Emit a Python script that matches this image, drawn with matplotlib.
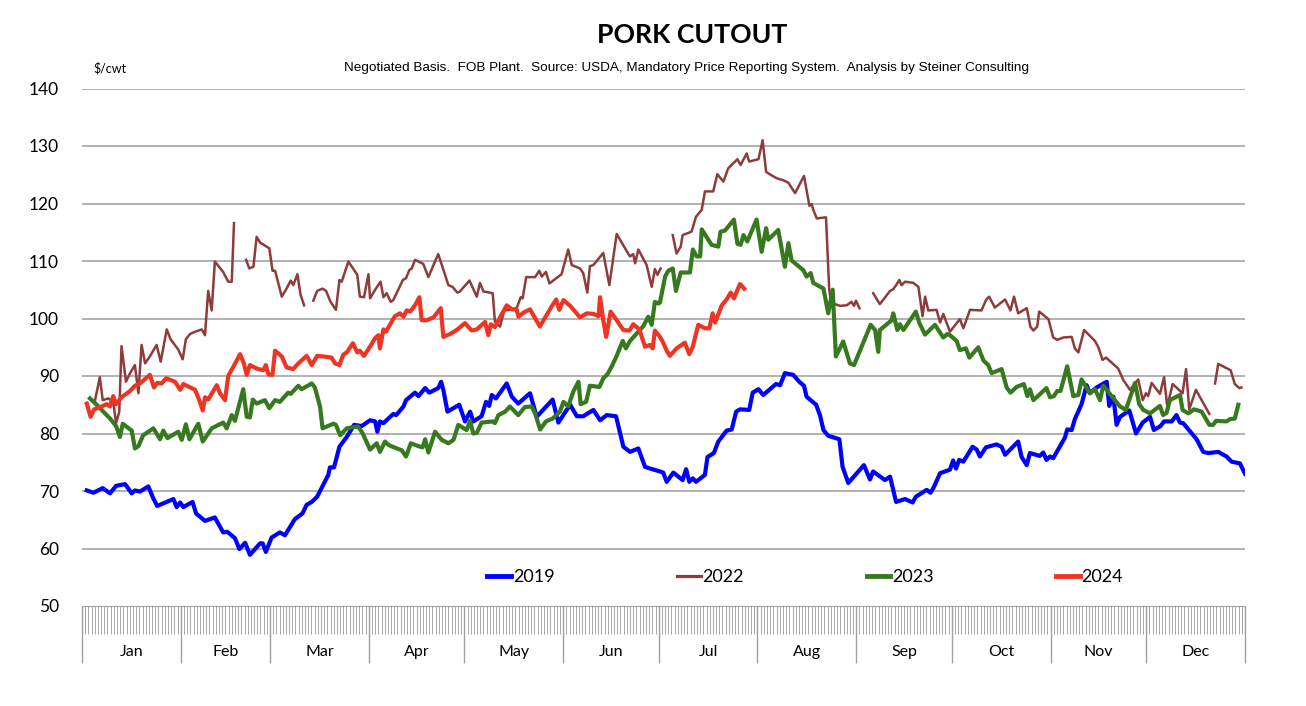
#%%
import numpy as np
import matplotlib.pyplot as plt
from matplotlib.lines import Line2D

# --- Données (jour de l'année depuis le 1er jan, $/cwt) ---
months = ['Jan', 'Feb', 'Mar', 'Apr', 'May', 'Jun', 'Jul', 'Aug', 'Sep', 'Oct', 'Nov', 'Dec']
month_days = [31, 28, 31, 30, 31, 30, 31, 31, 30, 31, 30, 31]
years = ['2019', '2022', '2023', '2024']

days_2019 = [1.5, 3.6, 6.5, 8.8, 10.7, 13.5, 15.6, 16.6, 18.2, 20.8, 22.4, 23.6, 26.6, 28.7, 29.7, 30.8,
             31.8, 34.7, 35.8, 38.6, 41.7, 44.3, 45.6, 48.0, 49.4, 51.2, 52.7, 55.9, 56.7, 57.7, 59.5, 62.1,
             63.7, 66.8, 69.2, 70.5, 72.1, 73.8, 77.3, 77.8, 79.1, 80.8, 83.1, 85.4, 87.8,
             90.4, 92.0, 92.7, 93.5, 94.6, 97.7, 98.6, 100.9, 101.7, 104.5, 105.6, 107.7, 109.0, 111.8,
             112.7, 113.4, 114.7, 118.4, 120.2, 121.8, 122.8, 125.4, 126.8, 127.8, 128.6, 129.9, 133.3,
             134.9, 136.9, 140.6, 142.7, 147.7, 149.5, 153.2, 155.3, 157.3, 160.5, 162.6, 164.7, 167.6,
             169.9, 172.0, 174.6, 176.7, 178.3,
             181.4, 182.4, 183.5, 185.6, 188.5, 189.6, 190.6, 191.7, 192.7, 195.5, 196.3, 198.3, 199.7,
             202.3, 203.9, 205.3, 206.5, 209.4, 210.5, 212.3, 213.8, 217.8, 219.1, 220.6, 223.2, 225.1,
             226.6, 227.4, 230.4, 231.6, 232.7, 234.2, 237.7, 238.7, 240.5, 245.4, 247.3, 248.3, 252.0,
             253.6, 255.5, 258.3, 260.7, 261.7, 265.1, 266.3, 267.2, 269.3,
             272.4, 273.4, 274.3, 275.3, 276.6, 279.5, 280.8, 281.8, 283.7, 287.0, 288.6, 289.7, 293.8,
             294.9, 296.5, 297.5, 300.6, 301.7, 302.7, 303.8, 304.8, 308.5, 309.2, 310.6, 311.6, 313.7,
             315.3, 316.3, 318.4, 321.6, 322.4, 323.1, 323.7, 324.7, 325.8, 328.7, 330.8, 332.9, 335.2,
             336.4, 338.5, 339.6, 342.0, 343.5, 344.6, 345.6, 349.8, 351.9, 353.5, 356.6, 359.2, 360.8,
             363.4, 365.0]
vals_2019 = [70.1, 69.7, 70.5, 69.6, 70.9, 71.2, 69.6, 70.1, 69.9, 70.8, 68.7, 67.4, 68.1, 68.6, 67.2, 68.0,
             67.2, 68.1, 66.1, 64.8, 65.4, 62.8, 62.9, 61.8, 59.9, 61.0, 58.9, 60.9, 60.9, 59.4, 61.9, 62.8,
             62.3, 65.1, 66.1, 67.6, 68.1, 69.0, 72.8, 74.1, 74.1, 77.7, 79.4, 81.5, 81.3,
             82.3, 82.1, 80.3, 82.1, 81.8, 83.4, 83.2, 84.7, 85.8, 87.1, 86.5, 87.9, 87.1, 87.9,
             89.0, 87.6, 83.8, 85.0, 82.1, 83.8, 82.1, 83.0, 85.5, 84.8, 86.7, 86.1, 88.7,
             86.4, 85.2, 87.0, 82.9, 85.9, 81.9, 85.0, 83.0, 83.0, 84.1, 82.3, 83.2, 83.0,
             77.7, 76.8, 77.4, 74.2, 73.9,
             73.4, 73.2, 71.6, 73.2, 71.9, 73.8, 71.6, 72.2, 71.6, 72.8, 75.9, 76.6, 78.6,
             80.5, 80.7, 83.8, 84.2, 84.1, 87.1, 87.7, 86.7, 88.6, 88.4, 90.5, 90.2, 89.0,
             88.3, 86.4, 85.0, 83.2, 80.6, 79.6, 79.0, 74.2, 71.4, 74.5, 72.0, 73.4, 71.9,
             72.5, 68.1, 68.6, 68.0, 69.0, 70.2, 69.7, 70.5, 73.1,
             73.7, 75.3, 73.9, 75.4, 75.1, 77.7, 77.2, 76.0, 77.6, 78.1, 77.7, 76.3, 78.6,
             75.9, 74.5, 76.6, 76.1, 76.7, 75.4, 76.0, 75.7, 79.3, 80.7, 80.6, 82.5, 85.1,
             88.4, 87.0, 88.0, 89.0, 84.8, 86.1, 86.4, 81.5, 82.9, 84.0, 80.0, 81.9, 82.9,
             80.6, 81.3, 82.1, 82.1, 83.2, 81.9, 81.8, 79.0, 76.8, 76.6, 76.8, 76.0, 75.1,
             74.8, 73.0]

# 2022 : np.nan = trou dans la série
days_2022 = [4.1, 5.6, 6.5, 8.3, 9.8, 10.7, 11.7, 12.4, 13.8, 15.1, 16.6, 17.7, 18.7, 19.8, 21.3, 23.4,
             24.7, 26.6, 27.8, 30.2, 31.6, 32.6, 33.9, 35.5, 37.6, 38.6, 39.6, 40.7, 41.7, 44.3, 45.9,
             47.0, 47.7, 49.5,
             51.5, 52.5, 53.8, 54.8, 55.9, 58.8, 59.8, 60.6, 62.7, 64.2, 65.5, 66.3, 67.6, 68.6, 69.7, 71.0,
             72.6, 73.8, 75.5, 76.6, 78.0, 79.7, 80.8, 81.5, 83.6, 86.4, 87.2, 88.5, 89.9,
             90.4, 92.0, 93.7, 94.6, 95.6, 96.9, 97.7, 100.7, 101.7, 102.7, 103.5, 104.5, 107.1, 108.7,
             111.8, 115.0, 116.3, 117.8, 118.6, 121.6, 123.9, 124.9, 126.0, 128.9, 129.6, 131.2, 132.5,
             134.3, 136.4, 137.7, 138.3, 139.4, 142.2, 143.5, 144.3, 145.6, 146.7, 150.5, 152.6, 153.7,
             156.3, 157.3, 158.6, 159.4, 160.5, 163.6, 165.5, 167.8, 171.5, 172.0, 173.0, 173.6, 174.6,
             177.2, 178.8, 179.8, 180.6, 181.6, 183.5,
             185.4, 186.6, 187.9, 188.5, 191.3, 192.7, 194.5, 195.5, 198.1, 199.4, 201.3, 202.8, 205.7,
             206.7, 208.6, 209.4, 212.3, 213.6, 214.7, 216.1, 218.0, 220.3, 221.7, 223.8, 226.6, 228.3,
             229.0, 229.5, 230.6, 233.5, 234.5, 235.0, 236.3, 237.9, 240.0, 241.5, 242.3, 242.9, 244.0, 246.0,
             248.3, 250.4, 253.6, 254.6, 255.5, 256.5, 257.2, 258.3, 260.9, 262.5, 263.8, 264.6, 265.6,
             268.2, 269.3, 270.3, 272.4, 275.5, 276.6, 278.7, 282.3, 283.7, 284.7, 286.5, 289.7, 291.4,
             292.5, 293.8, 296.5, 297.7, 298.6, 299.8, 300.4, 303.3, 304.8, 306.1, 308.0, 310.6, 311.6,
             312.7, 314.5, 317.9, 318.9, 320.3, 321.4, 325.2, 326.8, 328.9, 331.5, 332.9, 333.9, 334.6,
             335.7, 338.3, 339.6, 340.6, 342.3, 345.4, 346.5, 347.5, 349.6, 351.4, 353.8, 354.7,
             355.6, 356.6, 360.5, 361.8, 363.2, 363.9]
vals_2022 = [85.8, 89.8, 85.8, 86.1, 85.5, 81.8, 83.8, 95.2, 89.0, 90.5, 91.9, 87.0, 95.4, 92.2, 93.4, 95.4,
             92.5, 98.1, 96.4, 94.6, 92.9, 96.4, 97.3, 97.7, 98.1, 97.1, 104.8, 101.4, 109.9, 108.1, 106.4,
             106.4, 116.6, np.nan,
             110.2, 108.7, 109.0, 114.2, 113.2, 112.2, 108.3, 108.3, 103.8, 105.2, 106.6, 105.8, 107.7, 104.1, 102.3, np.nan,
             103.1, 104.8, 105.2, 104.8, 102.9, 101.5, 106.7, 106.4, 109.9, 107.6, 103.8, 103.7, 107.7,
             103.5, 105.0, 106.4, 103.7, 104.4, 102.9, 103.2, 106.7, 107.0, 108.4, 108.7, 110.2, 109.5, 107.2,
             111.2, 105.8, 105.5, 104.5, 104.7, 106.6, 103.8, 106.2, 104.7, 104.4, 99.4, 98.6, 101.4,
             101.5, 101.8, 103.7, 103.5, 107.2, 107.2, 108.3, 107.3, 108.1, 106.1, 107.7, 112.0, 109.3,
             108.7, 107.9, 104.5, 109.1, 109.3, 111.4, 105.8, 114.7, 111.2, 110.8, 111.2, 109.6, 112.0,
             109.3, 105.5, 108.6, 107.6, 108.7, np.nan,
             114.5, 111.3, 112.5, 114.5, 115.1, 117.7, 118.9, 122.1, 122.1, 125.1, 123.8, 126.1, 127.7,
             126.7, 128.7, 127.3, 127.7, 131.0, 125.5, 125.0, 124.4, 124.0, 123.6, 121.8, 124.8, 119.6,
             119.9, 118.9, 117.4, 117.6, 105.1, 103.2, 102.5, 102.2, 102.3, 102.9, 102.2, 103.1, 101.8, np.nan,
             104.4, 102.5, 104.8, 105.1, 105.8, 106.7, 105.8, 106.4, 106.2, 105.5, 100.4, 103.8, 101.4,
             101.5, 99.3, 100.8, 97.7, 99.9, 98.3, 101.5, 101.4, 103.2, 103.8, 101.9, 103.3, 101.4,
             103.8, 100.9, 101.8, 98.5, 97.9, 98.6, 101.2, 99.9, 96.7, 96.3, 96.7, 96.8, 94.8,
             94.1, 98.0, 96.1, 95.1, 92.8, 93.2, 91.3, 89.3, 87.6, 89.4, 85.8, 87.0, 86.5,
             88.8, 86.9, 89.8, 84.7, 88.6, 87.0, 91.2, 84.2, 87.6, 85.8, 83.4, np.nan,
             88.7, 92.1, 91.0, 88.6, 87.9, 88.0]

days_2023 = [2.5, 4.6, 6.7, 8.8, 10.7, 11.9, 12.8, 15.6, 16.6, 17.7, 19.2, 22.4, 24.5, 25.5, 26.8, 30.2,
             31.3, 32.6, 33.7, 36.5, 37.9, 40.7, 44.3, 45.4, 47.0, 48.0, 50.6, 51.7, 52.7, 53.6, 54.8,
             57.4, 58.8, 60.6, 62.1, 64.7, 65.5, 67.9, 68.9, 72.1, 73.1, 74.7, 75.5, 78.9, 79.7, 81.0,
             83.1, 85.1, 86.7, 88.1,
             90.4, 92.5, 93.5, 95.1, 96.2, 98.8, 100.3, 101.7, 103.2, 105.6, 106.9, 107.7, 108.7, 110.8,
             112.9, 115.0, 116.6, 118.1, 120.7, 121.8, 122.8, 123.9, 125.4, 128.9, 129.6, 130.7, 132.8,
             134.3, 136.9, 139.0, 141.1, 142.2, 143.8, 145.6, 147.7, 150.0, 151.1, 152.6, 154.2, 155.8,
             156.5, 158.2, 159.4, 162.4, 163.6, 164.9, 166.2, 167.8, 169.7, 170.7, 172.0, 174.1, 176.2,
             177.7, 178.8, 179.8, 180.9,
             181.4, 183.0, 184.0, 185.4, 186.4, 187.9, 190.8, 191.7, 192.9, 194.0, 194.5, 197.6, 199.7,
             200.4, 201.8, 204.6, 205.7, 206.7, 207.6, 208.8, 211.7, 213.3, 214.7, 215.4, 218.5, 220.6,
             221.7, 222.7, 226.4, 227.4, 228.7, 229.5, 232.7, 234.2, 235.6, 236.6, 238.9, 241.0, 242.3,
             247.5, 248.9, 249.9, 250.4, 254.1, 254.6, 255.9, 256.7, 257.8, 261.7, 262.8, 264.6, 267.7,
             270.3, 271.6,
             272.4, 274.5, 275.5, 277.4, 278.5, 281.3, 282.9, 284.4, 285.5, 288.6, 290.2, 291.4, 293.3,
             295.6, 296.7, 297.5, 298.6, 302.7, 303.8, 305.0, 306.1, 307.1, 309.2, 311.1, 312.7, 313.7,
             316.3, 317.9, 319.5, 320.5, 321.6, 323.7, 325.8, 327.6, 330.5, 331.8, 333.1, 335.2, 338.3,
             339.3, 340.4, 341.4, 344.6, 345.4, 347.2, 349.0, 351.4, 353.8, 355.0, 355.9, 359.2, 360.3,
             361.8, 362.9]
vals_2023 = [86.1, 85.0, 83.8, 82.6, 81.3, 79.4, 81.7, 80.5, 77.4, 77.8, 79.7, 80.9, 79.0, 80.5, 79.2, 80.3,
             78.9, 81.6, 79.0, 81.7, 78.6, 80.9, 81.9, 80.9, 83.2, 82.2, 87.7, 82.9, 82.8, 85.9, 85.2,
             85.8, 84.4, 85.8, 85.5, 87.1, 86.9, 88.3, 87.7, 88.7, 88.0, 84.7, 80.9, 81.7, 81.5, 79.7,
             80.9, 81.1, 81.2, 80.0,
             77.2, 78.3, 76.8, 78.6, 78.0, 77.4, 77.1, 76.0, 78.3, 77.8, 77.6, 79.0, 76.7, 80.3,
             78.9, 78.3, 78.9, 81.5, 80.6, 82.2, 80.0, 80.1, 81.9, 82.1, 81.8, 83.2, 83.8,
             84.7, 83.2, 84.6, 84.7, 83.5, 80.7, 82.1, 82.6, 83.8, 85.5, 84.7, 87.3, 89.0,
             85.1, 85.5, 88.3, 88.1, 89.6, 90.3, 91.6, 93.5, 96.1, 94.8, 96.1, 97.4, 98.7,
             100.3, 98.9, 102.9, 102.6,
             102.8, 107.3, 108.3, 108.7, 104.8, 108.0, 108.0, 112.0, 110.8, 110.8, 115.5, 112.8, 112.5,
             115.1, 115.3, 117.2, 113.0, 112.8, 114.5, 113.4, 117.2, 111.6, 115.7, 113.7, 115.4, 109.0,
             113.1, 110.1, 108.4, 107.3, 107.9, 106.2, 105.2, 100.9, 105.0, 93.4, 96.0, 92.2, 91.9,
             98.9, 98.0, 94.2, 98.0, 99.7, 100.9, 98.0, 99.0, 98.0, 101.2, 99.2, 97.2, 98.9,
             96.7, 97.3,
             97.1, 96.1, 94.5, 94.8, 93.2, 95.0, 92.7, 91.9, 90.5, 91.2, 88.0, 87.1, 88.1,
             88.6, 86.5, 87.7, 85.8, 87.9, 86.3, 86.5, 87.4, 87.4, 91.7, 86.5, 86.7, 89.4,
             87.0, 87.7, 85.8, 88.3, 87.6, 86.1, 84.7, 84.1, 88.8, 85.1, 84.1, 83.5, 84.8,
             83.2, 83.6, 85.8, 86.7, 84.1, 83.5, 84.2, 83.8, 81.5, 81.5, 82.2, 82.1, 82.5,
             82.6, 85.0]

days_2024 = [1.5, 2.7, 3.8, 6.2, 7.7, 8.8, 9.8, 10.7, 12.4, 15.1, 16.6, 18.2, 21.3, 22.6, 23.6, 25.0,
             26.4, 29.2, 30.8, 31.8, 35.5, 37.0, 37.9, 38.6, 39.6, 42.3, 43.3, 44.9, 45.9, 47.5, 49.6,
             50.8, 51.7, 52.7, 54.8, 56.9, 57.7, 58.5, 59.8, 60.6, 62.7, 64.2, 66.3, 67.9, 70.5, 72.1,
             73.8, 75.7, 78.3, 79.4, 80.8, 82.0, 83.1, 85.0, 86.4, 87.2, 88.5,
             90.4, 92.0, 93.0, 93.5, 94.6, 95.4, 98.2, 99.8, 100.9, 101.9, 103.0, 104.5, 105.9, 106.6,
             108.2, 110.3, 111.3, 112.6, 113.4, 115.5, 117.6, 120.2, 122.3, 123.9, 126.5, 127.5, 128.3,
             129.6, 131.4, 133.3, 134.9, 136.4, 137.0, 138.5, 140.6, 143.7, 145.8, 147.4, 148.8, 149.8,
             151.1, 153.2, 156.3, 158.4, 160.5, 162.1, 162.6, 163.6, 164.5, 165.9, 167.8, 169.9, 171.8,
             173.0, 174.9, 176.7, 178.3, 179.1, 179.8,
             181.4, 182.4, 183.5, 184.5, 186.6, 189.2, 190.6, 191.7, 193.4, 195.5, 196.9, 197.9, 198.7,
             200.8, 202.3, 203.6, 204.6, 206.5, 207.8]
vals_2024 = [85.2, 82.9, 84.2, 84.7, 85.1, 84.7, 86.5, 85.1, 86.3, 87.4, 88.3, 88.7, 90.2, 88.0, 88.8, 88.7,
             89.6, 89.0, 87.6, 88.6, 87.6, 85.5, 84.0, 86.3, 85.9, 88.4, 87.0, 85.8, 90.0, 91.6, 93.8,
             92.2, 90.2, 91.9, 91.3, 91.0, 91.9, 90.3, 90.2, 94.4, 93.4, 91.5, 91.2, 92.2, 93.5, 91.9,
             93.5, 93.4, 93.2, 92.2, 91.9, 93.7, 94.1, 95.7, 94.1, 94.4, 93.5,
             95.1, 96.6, 97.1, 94.8, 98.1, 97.7, 100.4, 100.9, 100.3, 101.4, 101.2, 102.3, 103.7, 99.7,
             99.7, 100.2, 100.9, 101.8, 96.8, 97.3, 98.0, 99.2, 97.9, 98.1, 99.4, 97.1, 99.0,
             98.5, 100.4, 102.3, 101.6, 101.6, 100.3, 101.0, 101.6, 98.6, 100.6, 102.1, 103.3, 101.5,
             103.2, 102.2, 100.2, 100.9, 100.8, 100.4, 103.7, 99.7, 96.8, 101.2, 99.7, 98.0, 97.9,
             99.0, 98.1, 95.1, 95.4, 94.8, 97.9,
             96.8, 95.8, 94.4, 93.5, 94.8, 95.8, 93.8, 95.1, 98.9, 98.3, 98.3, 100.9, 99.3,
             102.3, 103.3, 104.5, 103.5, 106.0, 105.2]

colors = {'2019': '#0000FF', '2022': '#8E3B3B', '2023': '#37791F', '2024': '#EE3524'}
widths = {'2019': 3.0, '2022': 1.8, '2023': 3.0, '2024': 3.0}

#%%
fig = plt.figure(figsize=(13.06, 7.06), dpi=100)
ax = fig.add_axes([82 / 1306, 100 / 706, 1163 / 1306, 517.5 / 706])

series = {'2019': (days_2019, vals_2019), '2022': (days_2022, vals_2022),
          '2023': (days_2023, vals_2023), '2024': (days_2024, vals_2024)}
for y in ['2019', '2022', '2023', '2024']:
    d, v = series[y]
    ax.plot(d, v, color=colors[y], lw=widths[y], solid_joinstyle='round', zorder=3)

ax.set_xlim(0, 365)
ax.set_ylim(50, 140)

# grille horizontale
ax.set_yticks(np.arange(50, 141, 10))
for g in range(60, 141, 10):
    ax.axhline(g, color='#ababab', lw=1.3, zorder=1)
ax.tick_params(axis='y', length=0, pad=16.5, labelsize=12.5)
for lab in ax.get_yticklabels():
    lab.set_fontfamily('Lato')

# axe x : un trait par jour + séparateurs de mois
month_edges = np.concatenate([[0], np.cumsum(month_days)])
ax.set_xticks(month_edges)
ax.set_xticklabels([])
ax.set_xticks(np.arange(0, 366, 1), minor=True)
ax.tick_params(axis='x', which='major', length=41, width=1.0, color='#a0a0a0')
ax.tick_params(axis='x', which='minor', length=20, width=0.7, color='#a8a8a8')
for lab_x, m in zip((month_edges[:-1] + month_edges[1:]) / 2, months):
    ax.text(lab_x, -0.089, m, transform=ax.get_xaxis_transform(), ha='center', va='center',
            fontsize=11.5, family='Lato')

for s in ['left', 'right', 'top']:
    ax.spines[s].set_visible(False)
ax.spines['bottom'].set_color('#a0a0a0')

# légende
handles = [Line2D([], [], color=colors[y], lw=widths[y] + 0.5) for y in years]
leg = ax.legend(handles, years, ncol=4, loc='center', bbox_to_anchor=(0.622, 0.056), frameon=False,
                handlelength=1.3, handletextpad=0.1, columnspacing=6.8,
                prop={'family': 'Lato', 'size': 13})

# titres
fig.text(0.53, 0.951, 'PORK CUTOUT', ha='center', va='center', fontsize=19.2, fontweight='bold', family='Lato')
fig.text(0.5255, 0.903, 'Negotiated Basis.  FOB Plant.  Source: USDA, Mandatory Price Reporting System.  '
         'Analysis by Steiner Consulting', ha='center', va='center', fontsize=9.7,
         family=['Liberation Sans Narrow', 'Liberation Sans'])
fig.text(0.0712, 0.903, '$/cwt', ha='left', va='center', fontsize=9, family='Lato')

fig.savefig('out.png', dpi=100)
